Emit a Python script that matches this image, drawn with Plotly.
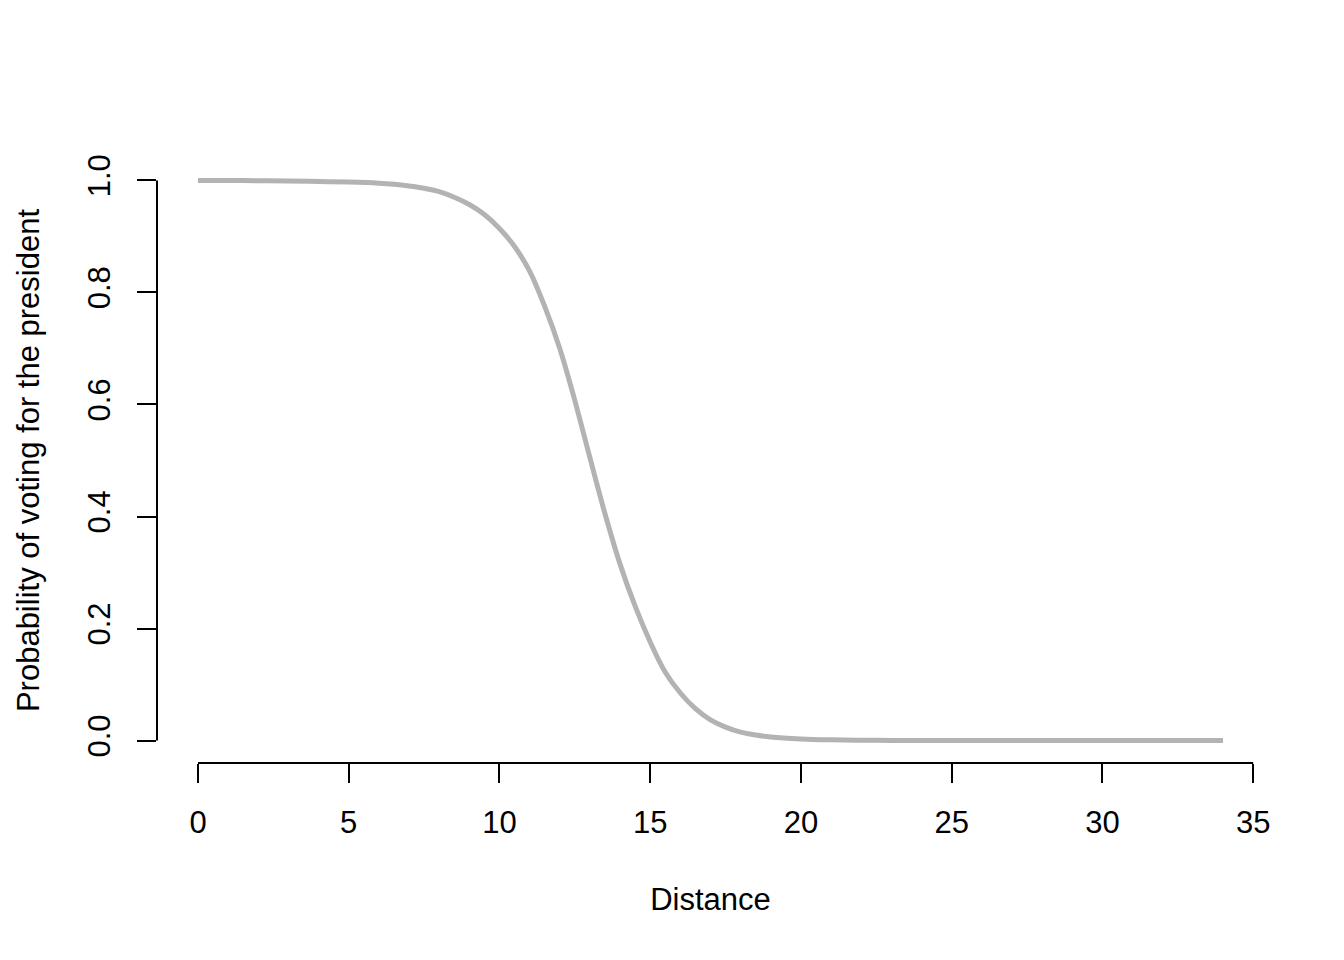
import plotly.graph_objects as go

# values
distance = [0, 1, 2, 3, 4, 5, 6, 6.5, 7, 7.5, 8, 8.5, 9, 9.5, 10, 10.5, 11,
            11.5, 12, 12.5, 13, 13.5, 14, 14.5, 15, 15.5, 16, 16.5, 17, 17.5,
            18, 18.5, 19, 20, 21, 22, 23, 24, 26, 28, 30, 32, 34]
prob = [1.0, 1.0, 0.9995, 0.999, 0.998, 0.997, 0.995, 0.993, 0.990, 0.986,
        0.980, 0.970, 0.957, 0.939, 0.914, 0.882, 0.838, 0.775, 0.700, 0.607,
        0.505, 0.405, 0.315, 0.240, 0.176, 0.122, 0.085, 0.057, 0.037, 0.024,
        0.015, 0.010, 0.0065, 0.003, 0.0014, 0.0007, 0.0003, 0.0001, 0.0,
        0.0, 0.0, 0.0, 0.0]

x_ticks = [0, 5, 10, 15, 20, 25, 30, 35]
y_ticks = [0.0, 0.2, 0.4, 0.6, 0.8, 1.0]

FONT = "Liberation Sans, Arial, Helvetica, sans-serif"
FS = 31

fig = go.Figure()
fig.add_trace(go.Scatter(
    x=distance, y=prob, mode="lines",
    line=dict(color="#b3b3b3", width=5, shape="spline", smoothing=1),
    showlegend=False, hoverinfo="skip",
))

# R-style axes: lines only span the tick range
fig.add_shape(type="line", xref="x", yref="paper",
              x0=x_ticks[0], x1=x_ticks[-1], y0=0, y1=0,
              line=dict(color="black", width=2))
fig.add_shape(type="line", xref="paper", yref="y",
              x0=0, x1=0, y0=y_ticks[0], y1=y_ticks[-1],
              line=dict(color="black", width=2))

# page body adds 8px on the left/top, so the figure is 8px smaller
fig.update_layout(
    width=1336, height=952,
    margin=dict(l=149, r=80, t=150, b=197),
    paper_bgcolor="white", plot_bgcolor="white",
    font=dict(family=FONT, size=FS, color="black"),
    xaxis=dict(
        range=[-1.36, 35.36], tickvals=x_ticks, automargin=False,
        showgrid=False, zeroline=False, showline=False,
        ticks="outside", ticklen=19, tickwidth=2, tickcolor="black",
        ticklabelstandoff=13,
        title=dict(text="Distance", standoff=49, font=dict(size=FS)),
    ),
    yaxis=dict(
        range=[-0.04, 1.04], tickvals=y_ticks, tickformat=".1f",
        tickangle=-90, automargin=False,
        showgrid=False, zeroline=False, showline=False,
        ticks="outside", ticklen=19, tickwidth=2, tickcolor="black",
        ticklabelstandoff=15,
        title=dict(text="Probability of voting for the president",
                   standoff=32, font=dict(size=FS)),
    ),
)

fig.write_html("out.html")
